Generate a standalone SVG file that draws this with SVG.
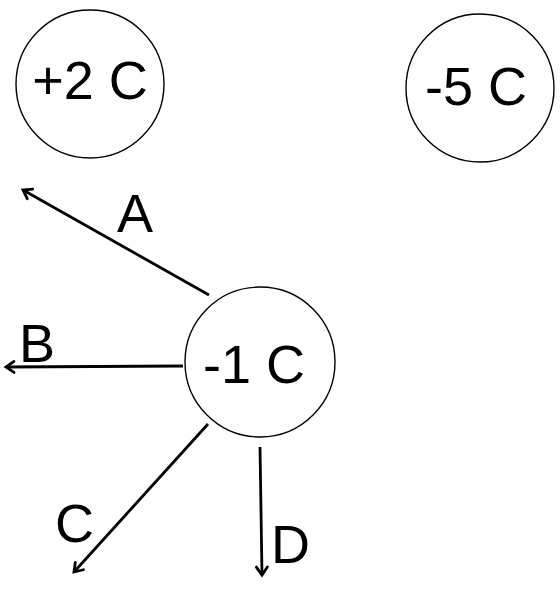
<svg xmlns="http://www.w3.org/2000/svg" width="560" height="596" viewBox="0 0 560 596">
<style>
.node circle{fill:#fff;stroke:#000;stroke-width:1.4}
text{font-family:"Liberation Sans",Arial,sans-serif;font-size:54px;fill:#000}
.node text{text-anchor:middle}
.conn line{stroke:#000;stroke-width:2.8;fill:none}
</style>
<defs>
<marker id="arr" markerUnits="userSpaceOnUse" markerWidth="20" markerHeight="20" refX="0" refY="0" viewBox="-12 -10 16 20" orient="auto">
<path d="M-8,-5.5 L0,0 L-8,5.5" fill="none" stroke="#000" stroke-width="2.8" stroke-linecap="round" stroke-linejoin="miter"/>
</marker>
</defs>
<rect width="560" height="596" fill="#fff"/>
<g id="q1" class="node"><circle cx="90" cy="84" r="74"/><text x="90" y="99">+2 C</text></g>
<g id="q2" class="node"><circle cx="480" cy="88" r="74"/><text x="476" y="105">-5 C</text></g>
<g id="q3" class="node"><circle cx="260" cy="362" r="75"/><text x="254" y="383">-1 C</text></g>
<g id="connectors" class="conn">
<line x1="209" y1="295" x2="23" y2="190" marker-end="url(#arr)"/>
<line x1="183" y1="366" x2="6" y2="367" marker-end="url(#arr)"/>
<line x1="208" y1="424" x2="74" y2="572" marker-end="url(#arr)"/>
<line x1="260" y1="447" x2="262" y2="575" marker-end="url(#arr)"/>
</g>
<g id="labels">
<text x="117" y="232">A</text>
<text x="19" y="362">B</text>
<text x="55" y="542">C</text>
<text x="271" y="563">D</text>
</g>
</svg>
